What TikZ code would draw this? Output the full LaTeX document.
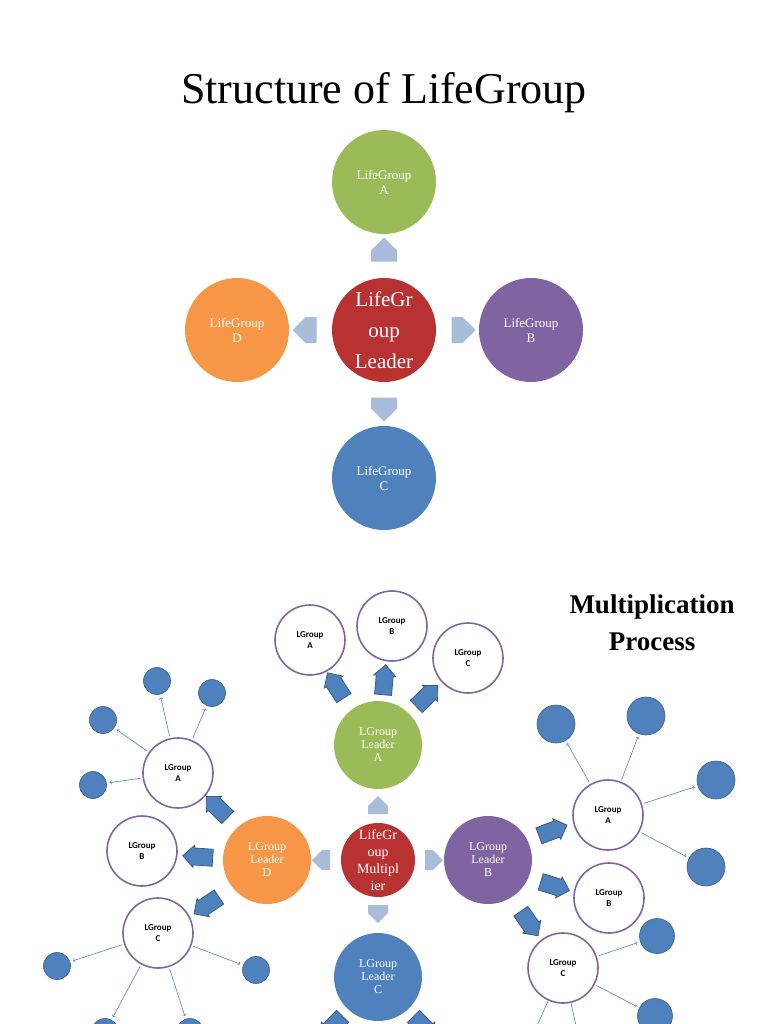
\documentclass[tikz,border=0pt]{standalone}
\usepackage{fontspec}
\setmainfont{Liberation Serif}
\newfontfamily\lgfont{Carlito}
\usetikzlibrary{shapes.arrows}

\definecolor{lgGreen}{HTML}{9BBB59}
\definecolor{lgPurple}{HTML}{8064A2}
\definecolor{lgOrange}{HTML}{F79646}
\definecolor{lgBlue}{HTML}{4F81BD}
\definecolor{lgDark}{HTML}{385D8A}
\definecolor{lgRed}{HTML}{B83232}
\definecolor{lgPale}{HTML}{A9BCD9}

\tikzset{
  bigcircle/.style={circle, minimum size=104pt, inner sep=0pt, text=white,
    align=center, font=\fontsize{13}{15}\selectfont},
  midcircle/.style={circle, minimum size=88pt, inner sep=0pt, text=white,
    align=center, font=\fontsize{12}{13}\selectfont},
  subgroup/.style={circle, draw=lgPurple, line width=1.6pt, fill=white,
    minimum size=70pt, inner sep=0pt, align=center,
    font=\lgfont\bfseries\fontsize{9}{11}\selectfont},
  dot/.style={circle, fill=lgBlue, draw=lgDark, line width=0.6pt,
    minimum size=27pt, inner sep=0pt},
  palearrow/.style={single arrow, fill=lgPale, minimum height=24pt,
    minimum width=26pt, single arrow head extend=0pt, inner sep=0pt},
  darkarrow/.style={single arrow, fill=lgBlue, draw=lgDark, line width=0.8pt,
    minimum height=30pt, minimum width=22pt, single arrow head extend=1pt,
    inner sep=3pt},
  thin/.style={->, draw=lgBlue, line width=0.6pt, shorten >=3pt, shorten <=2pt}
}

\begin{document}
\begin{tikzpicture}[x=1pt, y=-1pt]
\useasboundingbox (0,0) rectangle (768,1024);
\clip (0,0) rectangle (768,1024);

% top diagram
\node (title) at (384,93) {\fontsize{44}{48}\selectfont Structure of LifeGroup};
\node[bigcircle, fill=lgRed, font=\fontsize{21}{31}\selectfont] (leader) at (384,330) {LifeGr\\oup\\Leader};
\node[bigcircle, fill=lgGreen] (lifeA) at (384,182) {LifeGroup\\A};
\node[bigcircle, fill=lgPurple] (lifeB) at (531,330) {LifeGroup\\B};
\node[bigcircle, fill=lgBlue] (lifeC) at (384,478) {LifeGroup\\C};
\node[bigcircle, fill=lgOrange] (lifeD) at (237,330) {LifeGroup\\D};
\node[palearrow, rotate=90] (upA) at (384,256) {};
\node[palearrow] (toB) at (457,330) {};
\node[palearrow, rotate=-90] (downC) at (384,403) {};
\node[palearrow, rotate=180] (toD) at (311,330) {};

% bottom diagram
\node[align=center, font=\bfseries\fontsize{27}{37}\selectfont] (mtitle) at (652,623) {Multiplication\\Process};
\node[circle, fill=lgRed, minimum size=74pt, inner sep=0pt, text=white, align=center,
  font=\fontsize{14}{17}\selectfont] (mult) at (378,860) {LifeGr\\oup\\Multipl\\ier};
\node[midcircle, fill=lgGreen] (leadA) at (378,745) {LGroup\\Leader\\A};
\node[midcircle, fill=lgPurple] (leadB) at (488,860) {LGroup\\Leader\\B};
\node[midcircle, fill=lgBlue] (leadC) at (378,977) {LGroup\\Leader\\C};
\node[midcircle, fill=lgOrange] (leadD) at (267,860) {LGroup\\Leader\\D};
\node[palearrow, minimum height=18pt, minimum width=20pt, rotate=90] (mUp) at (378,810) {};
\node[palearrow, minimum height=18pt, minimum width=20pt] (mRight) at (429,860) {};
\node[palearrow, minimum height=18pt, minimum width=20pt, rotate=-90] (mDown) at (378,909) {};
\node[palearrow, minimum height=18pt, minimum width=20pt, rotate=180] (mLeft) at (326,860) {};

% subgroups
\node[subgroup] (tA) at (310,640) {LGroup\\A};
\node[subgroup] (tB) at (392,626) {LGroup\\B};
\node[subgroup] (tC) at (468,658) {LGroup\\C};
\node[subgroup] (lA) at (178,773) {LGroup\\A};
\node[subgroup] (lB) at (142,851) {LGroup\\B};
\node[subgroup] (lC) at (158,933) {LGroup\\C};
\node[subgroup] (rA) at (608,815) {LGroup\\A};
\node[subgroup] (rB) at (609,898) {LGroup\\B};
\node[subgroup] (rC) at (563,968) {LGroup\\C};

% dark arrows
\node[darkarrow, rotate=123] (aTA) at (338,689) {};
\node[darkarrow, rotate=85] (aTB) at (384,684) {};
\node[darkarrow, rotate=44] (aTC) at (424,699) {};
\node[darkarrow, rotate=136] (aLA) at (220,810) {};
\node[darkarrow, rotate=176] (aLB) at (202,857) {};
\node[darkarrow, rotate=214] (aLC) at (210,903) {};
\node[darkarrow, rotate=21] (aRA) at (549,832) {};
\node[darkarrow, rotate=-17] (aRB) at (551,885) {};
\node[darkarrow, rotate=-55] (aRC) at (527,920) {};
\node[darkarrow, rotate=225] (aCL) at (335,1024) {};
\node[darkarrow, rotate=-45] (aCR) at (421,1024) {};

% dots
\node[dot] (dLA1) at (157,681) {};
\node[dot] (dLA2) at (212,693) {};
\node[dot] (dLA3) at (103,720) {};
\node[dot] (dLA4) at (93,785) {};
\node[dot] (dLC1) at (57,966) {};
\node[dot] (dLC2) at (256,970) {};
\node[dot] (dLC3) at (105,1032) {};
\node[dot] (dLC4) at (190,1032) {};
\node[dot, minimum size=38pt] (dRA1) at (556,724) {};
\node[dot, minimum size=38pt] (dRA2) at (646,716) {};
\node[dot, minimum size=38pt] (dRA3) at (716,780) {};
\node[dot, minimum size=38pt] (dRA4) at (706,867) {};
\node[dot, minimum size=35pt] (dRC1) at (657,936) {};
\node[dot, minimum size=35pt] (dRC2) at (655,1016) {};
\coordinate (oRC1) at (535,1030);
\coordinate (oRC2) at (577,1030);

\foreach \d in {dLA1,dLA2,dLA3,dLA4} \draw[thin] (lA) -- (\d);
\foreach \d in {dLC1,dLC2,dLC3,dLC4} \draw[thin] (lC) -- (\d);
\foreach \d in {dRA1,dRA2,dRA3,dRA4} \draw[thin] (rA) -- (\d);
\foreach \d in {dRC1,dRC2} \draw[thin] (rC) -- (\d);
\foreach \d in {oRC1,oRC2} \draw[draw=lgBlue, line width=0.6pt] (rC) -- (\d);
\end{tikzpicture}
\end{document}
